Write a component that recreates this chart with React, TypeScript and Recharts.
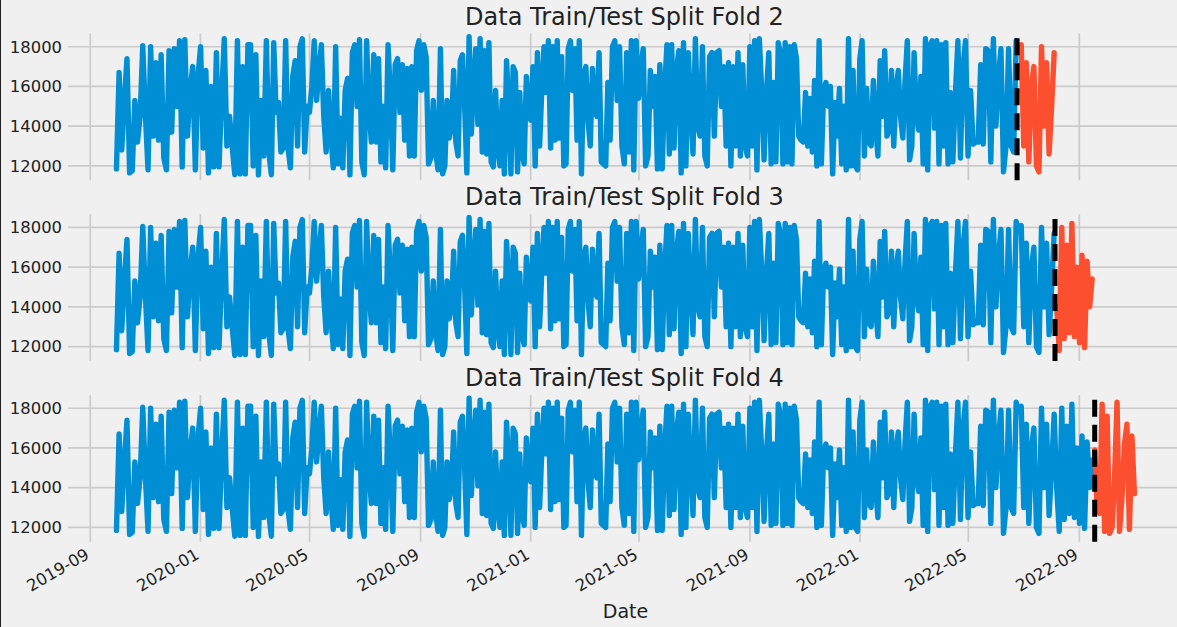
import React from "react";
import { LineChart, Line, XAxis, YAxis, CartesianGrid, ReferenceLine } from "recharts";

const segmentStarts = ["2019-09-30", "2020-03-17", "2020-09-23", "2021-03-30", "2021-10-05", "2022-04-11", "2022-09-18", "2022-11-01"];

const segment1 = [11850, 16700, 12800, 15300, 17400, 11650, 11750, 15300, 13200, 14500, 18050, 14600, 11800, 18000, 13500, 17200, 13300, 17600, 12400, 11800, 17800, 13700, 17900, 15000, 18300, 11950, 18350, 13500, 15800, 17000, 11800, 16500, 18000, 12900, 16800, 11650, 16000, 11950, 17700, 11950, 15500, 18400, 13000, 14500, 13000, 11550, 18300, 11600, 17000, 11600, 18100, 18100, 12000, 17600, 11550, 15300, 12500, 18300];
const segment2 = [12600, 11550, 18200, 14700, 15200, 12700, 12900, 18300, 12900, 11900, 16500, 17300, 13000, 18000, 18400, 12700, 15000, 14700, 16000, 18300, 15300, 16800, 18100, 14500, 12700, 15800, 13500, 11900, 18000, 12100, 14400, 11900, 15800, 16400, 11550, 17700, 18100, 15000, 18350, 12200, 11550, 18300, 14800, 13200, 17600, 13200, 17400, 12200, 15000, 11900, 18100, 15500, 11800, 17100, 17400, 14700, 17100, 13300, 16900, 12500, 17000, 12500, 17800, 18300, 15800, 18100, 17500, 12100, 12400, 15300, 12700, 11800];
const segment3 = [17900, 11600, 12000, 15300, 13400, 14000, 16800, 13200, 12500, 17300, 17600, 15000, 11650, 18500, 13600, 16000, 17900, 14100, 18400, 12700, 17800, 12600, 18200, 12200, 11950, 15800, 13000, 12000, 15300, 11600, 17300, 15000, 11600, 17000, 16700, 11700, 15700, 12600, 12100, 16500, 14700, 14300, 17000, 12000, 17700, 13000, 15800, 18000, 15700, 18300, 12900, 18000, 13300, 18300, 13400, 17500, 12000, 12100, 17900, 18300, 15800, 17900, 13300, 18300, 11600, 16500, 17000, 14300, 13000, 16900, 14800, 14500, 17700, 12200, 12100, 12000, 16200];
const segment4 = [13300, 18000, 18300, 15300, 18000, 13000, 12100, 17700, 12700, 18300, 11800, 18300, 15400, 17000, 17900, 12000, 12500, 16800, 15000, 16500, 11850, 17100, 11850, 15800, 18100, 12600, 18100, 12900, 16800, 17800, 11650, 18200, 12000, 17700, 15000, 12600, 18400, 14000, 13500, 18000, 12500, 12000, 17500, 17700, 13500, 17700, 17800, 15000, 17000, 13000, 17200, 12000, 17000, 13000, 17700, 12500, 17100, 13000, 12500, 18000, 13000, 18300, 11800, 18400, 15800, 12300, 15700, 17700, 12100, 16200, 12200, 18200];
const segment5 = [17600, 12100, 18200, 12200, 18000, 12100, 18100, 17400, 13500, 13300, 13200, 15700, 13000, 15400, 12700, 16300, 12000, 18300, 12100, 15800, 16200, 15000, 16000, 11600, 15200, 13500, 15900, 12100, 15000, 11800, 18400, 12000, 16800, 12000, 11800, 17400, 18300, 12500, 15900, 13200, 13000, 16300, 14000, 12500, 17300, 14500, 17800, 13500, 13800, 16800, 13000, 15800, 16800, 14500, 13400, 16300, 18300, 12300, 13000, 17700, 14500, 13800, 16500, 12100, 18400, 11800, 18100, 18300, 13900, 18300, 12100, 18100, 13000, 18200, 12100];
const segment6 = [15700, 12200, 15600, 18300, 12400, 17000, 18300, 12500, 15800, 13100, 13200, 13200, 17100, 13100, 17900, 17800, 12200, 18400, 14000, 16500, 17900, 11700, 13000, 17900, 13000, 12700, 18300, 17800, 18100, 13000, 17200, 12200, 16000, 17000, 12000, 11700, 18000, 14000, 17200, 12600, 15000, 17700, 14000, 11800, 18000, 12400, 17100, 12700, 18200, 12500, 16000, 12200, 16600, 11950, 16300, 14000, 15400];
const segment7 = [15900, 13000, 12700, 18200, 11800, 17600, 11700, 12000, 14500, 18300, 11800, 13500, 16200, 17200, 11900, 16600, 13700];

const segments = [segment1, segment2, segment3, segment4, segment5, segment6, segment7];

const foldNames = ["Data Train/Test Split Fold 2", "Data Train/Test Split Fold 3", "Data Train/Test Split Fold 4"];
const foldSplits = ["2022-06-24", "2022-08-05", "2022-09-18"];
const foldEnds = ["2022-08-05", "2022-09-17", "2022-11-01"];
const yTicks = [12000, 14000, 16000, 18000];
const xTickLabels = ["2019-09", "2020-01", "2020-05", "2020-09", "2021-01", "2021-05", "2021-09", "2022-01", "2022-05", "2022-09"];

const DAY = 86400000;
const toTime = (s: string) => new Date(s.length === 7 ? s + "-01" : s).getTime();
const xTicks = xTickLabels.map(toTime);
const xDomain = [toTime("2019-09-01") - 24.7 * DAY, toTime("2019-09-01") + 1204.2 * DAY];

const series: { t: number; v: number }[] = [];
segments.forEach((values, i) => {
  const start = toTime(segmentStarts[i]);
  const end = toTime(segmentStarts[i + 1]);
  const steps = i === segments.length - 1 ? values.length - 1 : values.length;
  values.forEach((v, j) => series.push({ t: start + ((end - start) * j) / steps, v }));
});

const BLUE = "#008fd5";
const RED = "#fc4f30";
const FONT = "'DejaVu Sans', sans-serif";
const W = 1177;
const H = 627;
const panelTops = [33.5, 214.2, 395];
const PANEL_H = 146.7;

const DateTick = (props: any) => {
  const { x, y, payload } = props;
  const d = new Date(payload.value);
  const label = `${d.getUTCFullYear()}-${String(d.getUTCMonth() + 1).padStart(2, "0")}`;
  return (
    <text
      x={x}
      y={y}
      transform={`rotate(-30 ${x} ${y})`}
      textAnchor="end"
      fontSize={16.4}
      fontFamily={FONT}
      fill="#222"
    >
      {label}
    </text>
  );
};

const App = () => {
  return (
    <div
      style={{
        position: "absolute",
        left: 0,
        top: 0,
        width: W,
        height: H,
        background: "#f0f0f0",
        overflow: "hidden",
        fontFamily: FONT,
      }}
    >
      {foldNames.map((name, idx) => {
        const split = toTime(foldSplits[idx]);
        const end = toTime(foldEnds[idx]);
        const rows = series
          .filter((p) => p.t <= end)
          .map((p) => ({
            t: p.t,
            train: p.t < split ? p.v : null,
            test: p.t >= split ? p.v : null,
          }));
        const top = panelTops[idx];
        const isLast = idx === foldNames.length - 1;
        const axisH = isLast ? H - top - PANEL_H : 0;
        return (
          <div key={name} style={{ position: "absolute", left: 0, top: 0 }}>
            <LineChart
              width={W}
              height={H}
              data={rows}
              margin={{
                top,
                left: 0,
                right: 0,
                bottom: isLast ? 0 : H - top - PANEL_H,
              }}
            >
              <CartesianGrid stroke="#cbcbcb" strokeWidth={1.7} syncWithTicks />
              <XAxis
                dataKey="t"
                type="number"
                scale="linear"
                domain={xDomain}
                ticks={xTicks}
                axisLine={false}
                tickLine={false}
                height={axisH}
                tick={isLast ? <DateTick /> : () => <g />}
                tickMargin={10}
                interval={0}
              />
              <YAxis
                width={68}
                domain={[11279, 18666]}
                ticks={yTicks}
                axisLine={false}
                tickLine={false}
                tickMargin={0}
                tick={{ fontSize: 16.4, fontFamily: FONT, fill: "#222" }}
              />
              <Line
                dataKey="train"
                stroke={BLUE}
                strokeWidth={5.4}
                dot={false}
                strokeLinejoin="round"
                strokeLinecap="round"
                isAnimationActive={false}
              />
              <Line
                dataKey="test"
                stroke={RED}
                strokeWidth={5.4}
                dot={false}
                strokeLinejoin="round"
                strokeLinecap="round"
                isAnimationActive={false}
              />
              <ReferenceLine x={split} stroke="#000" strokeWidth={5} strokeDasharray="17 8" />
            </LineChart>
            <div
              style={{
                position: "absolute",
                left: 0,
                width: 1249,
                top: top - 31,
                textAlign: "center",
                fontSize: 24,
                lineHeight: "28px",
                color: "#222",
                whiteSpace: "nowrap",
              }}
            >
              {name}
            </div>
          </div>
        );
      })}
      <div
        style={{
          position: "absolute",
          left: 0,
          width: 1251,
          top: 599,
          textAlign: "center",
          fontSize: 19,
          lineHeight: "24px",
          color: "#222",
        }}
      >
        Date
      </div>
      <div style={{ position: "absolute", left: 0, top: 0, width: 1.4, height: H, background: "#222" }} />
    </div>
  );
};

export default App;
